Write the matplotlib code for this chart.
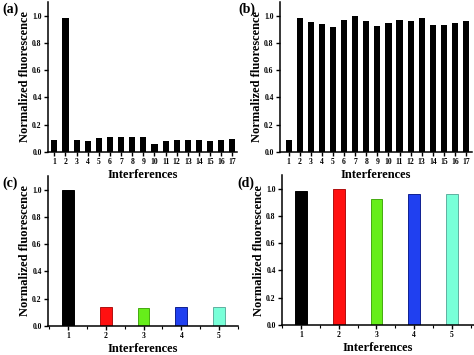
import matplotlib
matplotlib.use("Agg")
import matplotlib.pyplot as plt
from matplotlib.ticker import MultipleLocator

plt.rcParams['font.family'] = ['Liberation Serif', 'DejaVu Serif']
plt.rcParams['font.weight'] = 'bold'

# datos
interf_17 = list(range(1, 18))
vals_a = [0.088, 0.983, 0.086, 0.083, 0.103, 0.108, 0.108, 0.110, 0.108,
          0.059, 0.078, 0.088, 0.086, 0.088, 0.081, 0.086, 0.093]
vals_b = [0.086, 0.983, 0.953, 0.936, 0.914, 0.968, 1.000, 0.961, 0.924,
          0.943, 0.970, 0.963, 0.985, 0.931, 0.931, 0.943, 0.963]

interf_5 = [1, 2, 3, 4, 5]
vals_c = [1.000, 0.138, 0.130, 0.140, 0.138]
vals_d = [0.983, 1.000, 0.921, 0.963, 0.958]
colores = ['#000000', '#ff1010', '#66ee1a', '#2040f0', '#78ffd8']
bordes = ['#000000', '#b01010', '#44aa10', '#102090', '#60b0a0']

W, H = 474, 355
fig = plt.figure(figsize=(W / 100, H / 100), dpi=100)


def ejes(left, right, top, bottom):
    ax = fig.add_axes([left / W, 1 - bottom / H, (right - left) / W, (bottom - top) / H])
    ax.set_facecolor('none')
    return ax


def estilo(ax, xlim, minor_x):
    ax.set_xlim(*xlim)
    ax.set_ylim(0, 1.1)
    ax.spines['top'].set_visible(False)
    ax.spines['right'].set_visible(False)
    for s in ('left', 'bottom'):
        ax.spines[s].set_linewidth(1.1)
    ax.set_yticks([0, 0.2, 0.4, 0.6, 0.8, 1.0])
    ax.set_yticklabels(['0.0', '0.2', '0.4', '0.6', '0.8', '1.0'])
    if minor_x:
        ax.xaxis.set_minor_locator(MultipleLocator(0.5))
    ax.tick_params(direction='out', length=3, width=1, labelsize=5.5, pad=1.5)
    ax.tick_params(which='minor', direction='out', length=2, width=0.8)
    ax.set_ylabel('Normalized fluorescence', fontsize=9, fontweight='bold', labelpad=1)
    ax.set_xlabel('Interferences', fontsize=9, fontweight='bold', labelpad=2)


# (a)
ax_a = ejes(48, 237, 2, 152)
ax_a.bar(interf_17, vals_a, width=0.55, color='black')
ax_a.set_xticks(interf_17)
estilo(ax_a, (0.43, 17.42), False)

# (b)
ax_b = ejes(280, 472, 2, 152)
ax_b.bar(interf_17, vals_b, width=0.55, color='black')
ax_b.set_xticks(interf_17)
estilo(ax_b, (0.21, 17.54), False)

# (c)
ax_c = ejes(48, 238, 176, 326)
ax_c.bar(interf_5, vals_c, width=0.31, color=colores, edgecolor=bordes, linewidth=0.7)
ax_c.set_xticks(interf_5)
estilo(ax_c, (0.47, 5.5), True)

# (d)
ax_d = ejes(282, 474, 175, 325)
ax_d.bar(interf_5, vals_d, width=0.31, color=colores, edgecolor=bordes, linewidth=0.7)
ax_d.set_xticks(interf_5)
estilo(ax_d, (0.5, 5.58), True)

for txt, x, y in [('(a)', 2, 9), ('(b)', 238, 9), ('(c)', 2, 183), ('(d)', 237, 183)]:
    fig.text(x / W, 1 - y / H, txt, fontsize=10, fontweight='bold', va='center', ha='left')

fig.savefig('out.png', dpi=100)
